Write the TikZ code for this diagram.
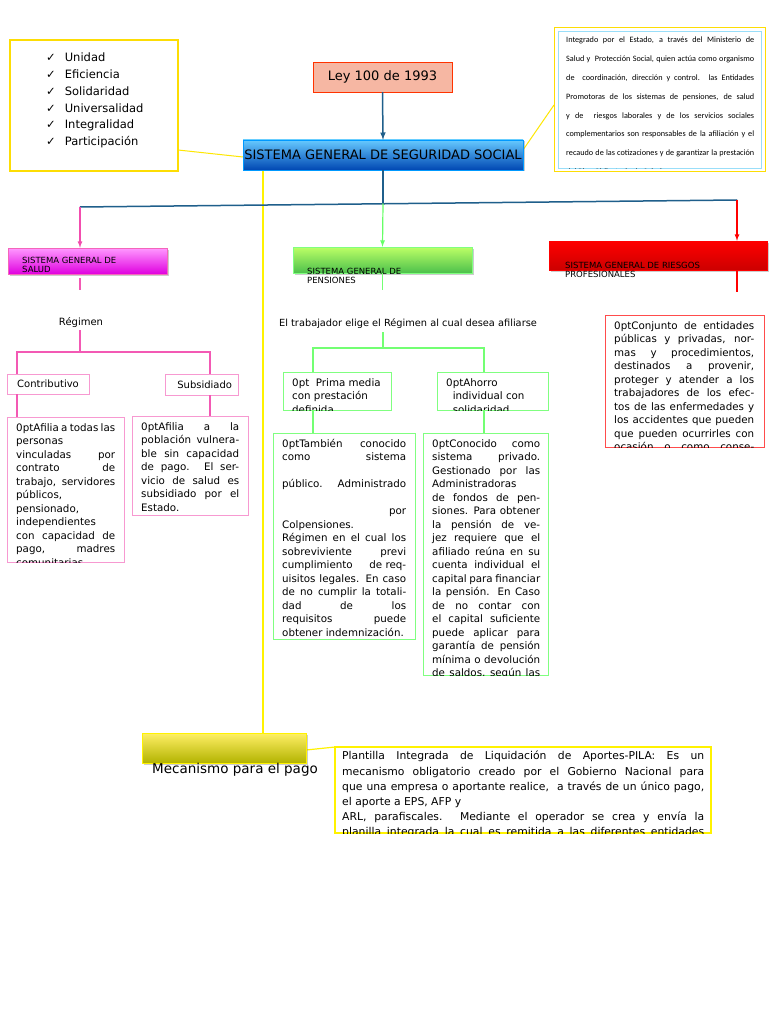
\documentclass[tikz,border=0pt]{standalone}
\usepackage{fontspec}
\setmainfont{DejaVu Sans}
\newfontfamily\carfont{Carlito}
\usetikzlibrary{shadows,calc}
\hyphenpenalty=10000 \exhyphenpenalty=10000
\definecolor{ln}{HTML}{1F5F8B}
\definecolor{salm}{HTML}{F6B7A3}
\tikzset{
 lbl/.style={inner sep=0pt,anchor=north west,align=justify},
 bar/.style={drop shadow={opacity=0.4,shadow xshift=1.5pt,shadow yshift=-1.5pt}},
}
\newcommand\cbox[6]{% name, nw, se, color, width, text
 \draw[#4,line width=1pt] #2 coordinate(#1nw) rectangle #3 coordinate(#1se);
 \begin{scope}\clip #2 rectangle #3;
 \node[lbl,text width=#5,font=\fontsize{10.3}{13.5}\selectfont\hyphenpenalty=10000] at ($#2+(9,6)$) {#6};
 \end{scope}}
\begin{document}
\begin{tikzpicture}[x=1pt,y=-1pt]
\useasboundingbox[fill=white] (0,0) rectangle (768,1024);
% connectors first
\draw[yellow!90!orange,line width=1pt] (178,150) -- (243,157);
\draw[yellow!90!orange,line width=1pt] (523,150) -- (554,105);
\draw[yellow,line width=2.5pt] (263,170) -- (263,735);
\draw[yellow,line width=1.2pt] (306,750) -- (335,747);
% top left list
\draw[yellow!80!orange,line width=1.2pt] (10,40) coordinate(tl) rectangle (178,171);
\foreach \t [count=\i] in {Unidad,Eficiencia,Solidaridad,Universalidad,Integralidad,Participación}
 \node[anchor=west,font=\fontsize{11.5}{13}\selectfont,inner sep=0pt] at (46,40+\i*17) {\char"2713\hspace{9pt}\t};
% Ley 100
\node[draw=red!60!orange,fill=salm,minimum width=139pt,minimum height=30pt,inner sep=0pt,font=\fontsize{13}{14}\selectfont] (ley) at (382.5,77) {Ley 100 de 1993};
% SGSS
\node[bar,top color=blue!35!cyan!60,bottom color=blue!60!cyan!70!black,draw=blue!40!cyan,minimum width=280pt,minimum height=30pt,inner sep=0pt] (sgss) at (383,155) {};
\node[font=\fontsize{13}{14}\selectfont,inner sep=0pt] at (383,155) {SISTEMA GENERAL DE SEGURIDAD SOCIAL};
\draw[-latex,ln,line width=1.5pt] (ley.south) -- (sgss.north);
% right top box
\draw[yellow!80!orange,line width=1pt] (554,28) rectangle (765,172);
\draw[cyan!40,line width=1pt] (558,32) rectangle (761,169);
\begin{scope}\clip (558,32) rectangle (761,169);
\node[lbl,text width=188pt,font=\carfont\fontsize{8.2}{18.8}\selectfont] at (566,37) {Integrado por el Estado, a través del Ministerio de Salud y \ Protección Social, quien actúa como organismo de \ coordinación, dirección y control. las Entidades \ Promotoras de los sistemas de pensiones, de salud y de \ riesgos laborales y de los servicios sociales \ complementarios son responsables de la afiliación y el \ recaudo de las cotizaciones y de garantizar la prestación \ del Plan Obligatorio de Salud.};
\end{scope}
% distribution line
\coordinate (hl) at (80,207); \coordinate (hr) at (737,200); \coordinate (hm) at (383,203.5);
\draw[ln,line width=1.5pt] (sgss.south) -- (hm);
\draw[ln,line width=1.5pt] (hl) -- (hr);
% subsystem bars
\node[bar,top color=magenta!40,bottom color=magenta!75!violet,draw=magenta!60,minimum width=159pt,minimum height=26pt,inner sep=0pt] (salud) at (87.5,261) {};
\node[lbl,anchor=west,font=\fontsize{8.5}{9}\selectfont,align=left] at (22,265) {SISTEMA GENERAL DE\\SALUD};
\node[bar,top color=green!25!lime!60,bottom color=green!65!black!70,draw=green!50,minimum width=179pt,minimum height=26pt,inner sep=0pt] (pens) at (382.5,260) {};
\node[lbl,anchor=west,font=\fontsize{8.5}{9}\selectfont,align=left] at (307,276) {SISTEMA GENERAL DE\\PENSIONES};
\node[bar,top color=red,bottom color=red!80!black,draw=red,minimum width=218pt,minimum height=29pt,inner sep=0pt] (ries) at (658,255.5) {};
\node[lbl,anchor=west,font=\fontsize{8.5}{9}\selectfont,align=left] at (565,270) {SISTEMA GENERAL DE RIESGOS\\PROFESIONALES};
\draw[-latex,magenta!70,line width=1.2pt] (hl) -- (salud.north -| hl);
\draw[-latex,green!60,line width=1.2pt] (hm) -- (pens.north);
\draw[-latex,red,line width=1.2pt] (hr) -- (ries.north -| hr);
% Salud branch
\tikzset{pk/.style={magenta!65,line width=1.5pt}}
\draw[pk] (salud.south -| hl) ++(0,4) -- ++(0,12);
\node[font=\fontsize{10}{11}\selectfont] (reg) at (81,323) {Régimen};
\draw[pk] (80,330) -- (80,352) coordinate(sj);
\draw[pk] (17,374) |- (210,352) -- (210,374);
\node[draw=magenta!40,line width=1pt,minimum width=82pt,minimum height=20pt,inner sep=0pt,font=\fontsize{10}{11}\selectfont] (contr) at (48,384) {Contributivo};
\node[draw=magenta!40,line width=1pt,minimum width=73pt,minimum height=21pt,inner sep=0pt,font=\fontsize{10}{11}\selectfont] (subs) at (201.5,384.5) {\ \ Subsidiado};
\draw[pk] (17,394) -- (17,417);
\draw[pk] (210,395) -- (210,416);
\cbox{b1}{(7,417)}{(124,562)}{magenta!40}{99pt}{Afilia a todas las personas\\ vinculadas \hfill por contrato \hfill de trabajo, servidores públicos,\\ pensionado,\\ independientes\\ con capacidad de pago, \hfill madres comunitarias.}
\cbox{b2}{(132,416)}{(248,515)}{magenta!40}{98pt}{Afilia a la población vulnerable sin capacidad de pago. El servicio de salud es subsidiado por el Estado.}
% Pensiones branch
\tikzset{gr/.style={green!55,line width=1.5pt}}
\draw[gr] (pens.south) -- ++(0,17);
\node[font=\fontsize{9.8}{11}\selectfont] (elige) at (408,324) {El trabajador elige el Régimen al cual desea afiliarse};
\draw[gr] (383,332) -- (383,348);
\draw[gr] (313,372) |- (484,348) -- (484,372);
\cbox{p1}{(283,372)}{(391,410)}{green!50}{100pt}{\raggedright\ \ Prima media\\ con prestación\\ definida}
\cbox{p2}{(437,372)}{(548,410)}{green!50}{100pt}{\raggedright Ahorro\\ \ \ individual con\\ \ \ solidaridad}
\draw[gr] (313,410) -- (313,433);
\draw[gr] (484,410) -- (484,433);
\cbox{t1}{(273,433)}{(415,639)}{green!50}{124pt}{También \hfill conocido\\ como \hfill sistema\\[13.5pt] público. \hfill Administrado\\[13.5pt] \null\hfill por\hspace{25pt}\\ Colpensiones.\\ Régimen en el cual los sobreviviente \hfill previ cumplimiento \hfill de requisitos legales. En caso de no cumplir la totalidad \hfill de \hfill los requisitos \hfill puede obtener indemnización.}
\cbox{t2}{(423,433)}{(548,675)}{green!50}{108pt}{Conocido como sistema privado. Gestionado por las Administradoras de fondos de pensiones. Para obtener la pensión de vejez requiere que el afiliado reúna en su cuenta individual el capital para financiar la pensión. En Caso de no contar con el capital suficiente puede aplicar para garantía de pensión mínima o devolución de saldos, según las condiciones.}
% Riesgos branch
\draw[red,line width=1.5pt] (ries.south -| hr) -- ++(0,22);
\cbox{r1}{(605,315)}{(764,447)}{red!70}{140pt}{Conjunto de entidades públicas y privadas, normas y procedimientos, destinados a provenir, proteger y atender a los trabajadores de los efectos de las enfermedades y los accidentes que pueden que pueden ocurrirles con ocasión o como consecuencia del trabajo.}
% Mecanismo
\node[bar,top color=yellow!80!orange!60,bottom color=yellow!70!black,draw=yellow,minimum width=164pt,minimum height=30pt,inner sep=0pt] (mec) at (224,748) {};
\node[font=\fontsize{13.5}{14}\selectfont,inner sep=0pt] at (235,770) {Mecanismo para el pago};
\draw[yellow,line width=1.2pt] (335,747) rectangle (711,833);
\begin{scope}\clip (335,747) rectangle (711,833);
\node[lbl,text width=362pt,font=\fontsize{10.8}{15.2}\selectfont] at (342,751) {Plantilla Integrada de Liquidación de Aportes-PILA: Es un mecanismo obligatorio creado por el Gobierno Nacional para que una empresa o aportante realice, \ a través de un único pago, el aporte a EPS, AFP y\\ ARL, parafiscales. Mediante el operador se crea y envía la planilla integrada la cual es remitida a las diferentes entidades administradoras.};
\end{scope}
\end{tikzpicture}
\end{document}
